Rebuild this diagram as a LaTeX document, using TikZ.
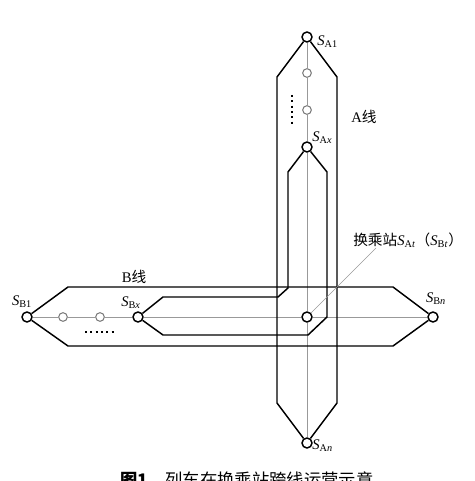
\documentclass[tikz,border=0pt]{standalone}
\usepackage{amsmath}
\usepackage{xcolor}
\usepackage{fontspec}
\setmainfont{Liberation Serif}
\newfontfamily\cjk{Noto Sans CJK SC}
\usepackage{tikz}

\newcommand{\stn}[1]{\textit{S}\textsubscript{#1}}

\tikzset{
  station/.style={circle,draw=black,fill=white,line width=1.1pt,inner sep=0pt,minimum size=7.5pt},
  stop/.style={circle,draw=gray,fill=white,line width=0.8pt,inner sep=0pt,minimum size=6.5pt},
  route/.style={line width=1.1pt,line join=miter},
  track/.style={draw=gray!80,line width=0.5pt},
  more/.style={line width=0.9pt,dash pattern=on 1.4pt off 2.6pt},
  lbl/.style={inner sep=0.75pt,font=\fontsize{11}{13}\selectfont}
}

\begin{document}
\begin{tikzpicture}[x=0.75pt,y=0.75pt,yscale=-1,xscale=1]
\useasboundingbox (0,0) rectangle (474,481);

% stations
\node (SA1) [station] at (307,37) {};
\node (SAx) [station] at (307,147) {};
\node (SAn) [station] at (307,443) {};
\node (SB1) [station] at (27,317) {};
\node (SBx) [station] at (138,317) {};
\node (SBn) [station] at (433,317) {};
\node (SAt) [station] at (307,317) {};

\node (a2) [stop] at (307,73) {};
\node (a3) [stop] at (307,110) {};
\node (b2) [stop] at (63,317) {};
\node (b3) [stop] at (100,317) {};

% centre lines
\draw [track] (SA1) -- (a2) -- (a3) -- (SAx) -- (SAt) -- (SAn);
\draw [track] (SB1) -- (b2) -- (b3) -- (SBx) -- (SAt) -- (SBn);

% line A
\coordinate (Atl) at (277,77);
\coordinate (Atr) at (337,77);
\coordinate (Abl) at (277,403);
\coordinate (Abr) at (337,403);
\draw [route] (SA1) -- (Atl) -- (Abl) -- (SAn) -- (Abr) -- (Atr) -- (SA1);

% line B
\coordinate (Blt) at (68,287);
\coordinate (Blb) at (68,346);
\coordinate (Brt) at (393,287);
\coordinate (Brb) at (393,346);
\draw [route] (SB1) -- (Blt) -- (Brt) -- (SBn) -- (Brb) -- (Blb) -- (SB1);

% cross-line run
\coordinate (c1) at (288,172);
\coordinate (c2) at (288,288);
\coordinate (c3) at (278,297);
\coordinate (c4) at (163,297);
\coordinate (c5) at (163,335);
\coordinate (c6) at (308,335);
\coordinate (c7) at (327,317);
\coordinate (c8) at (327,172);
\draw [route] (SAx) -- (c1) -- (c2) -- (c3) -- (c4) -- (SBx) -- (c5) -- (c6) -- (c7) -- (c8) -- (SAx);

% omitted stations
\coordinate (dA1) at (292,95);
\coordinate (dA2) at (292,126);
\draw [more] (dA1) -- (dA2);
\coordinate (dB1) at (85,332);
\coordinate (dB2) at (116,332);
\draw [more] (dB1) -- (dB2);

% labels
\node [lbl,anchor=west] at (316,42) {\stn{A1}};
\node [lbl,anchor=west] at (311,138) {\stn{A\textit{x}}};
\node [lbl,anchor=west] at (311,446) {\stn{A\textit{n}}};
\node [lbl] at (22,302) {\stn{B1}};
\node [lbl] at (131,303) {\stn{B\textit{x}}};
\node [lbl] at (436,299) {\stn{B\textit{n}}};
\node (nameA) [lbl,anchor=west] at (350,117) {A{\cjk 线}};
\node (nameB) [lbl] at (134,277) {B{\cjk 线}};

\node (xfer) [lbl,anchor=west] at (352,240) {{\cjk 换乘站}\stn{A\textit{t}}{\cjk （}\stn{B\textit{t}}{\cjk ）}};
\coordinate (lead) at (376,248);
\draw [track] (SAt) -- (lead);

\node (cap) [anchor=north west,inner sep=0pt,font=\fontsize{13}{15}\selectfont] at (120,472) {{\cjk\bfseries 图1}\quad{\cjk 列车在换乘站跨线运营示意}};

\end{tikzpicture}
\end{document}
